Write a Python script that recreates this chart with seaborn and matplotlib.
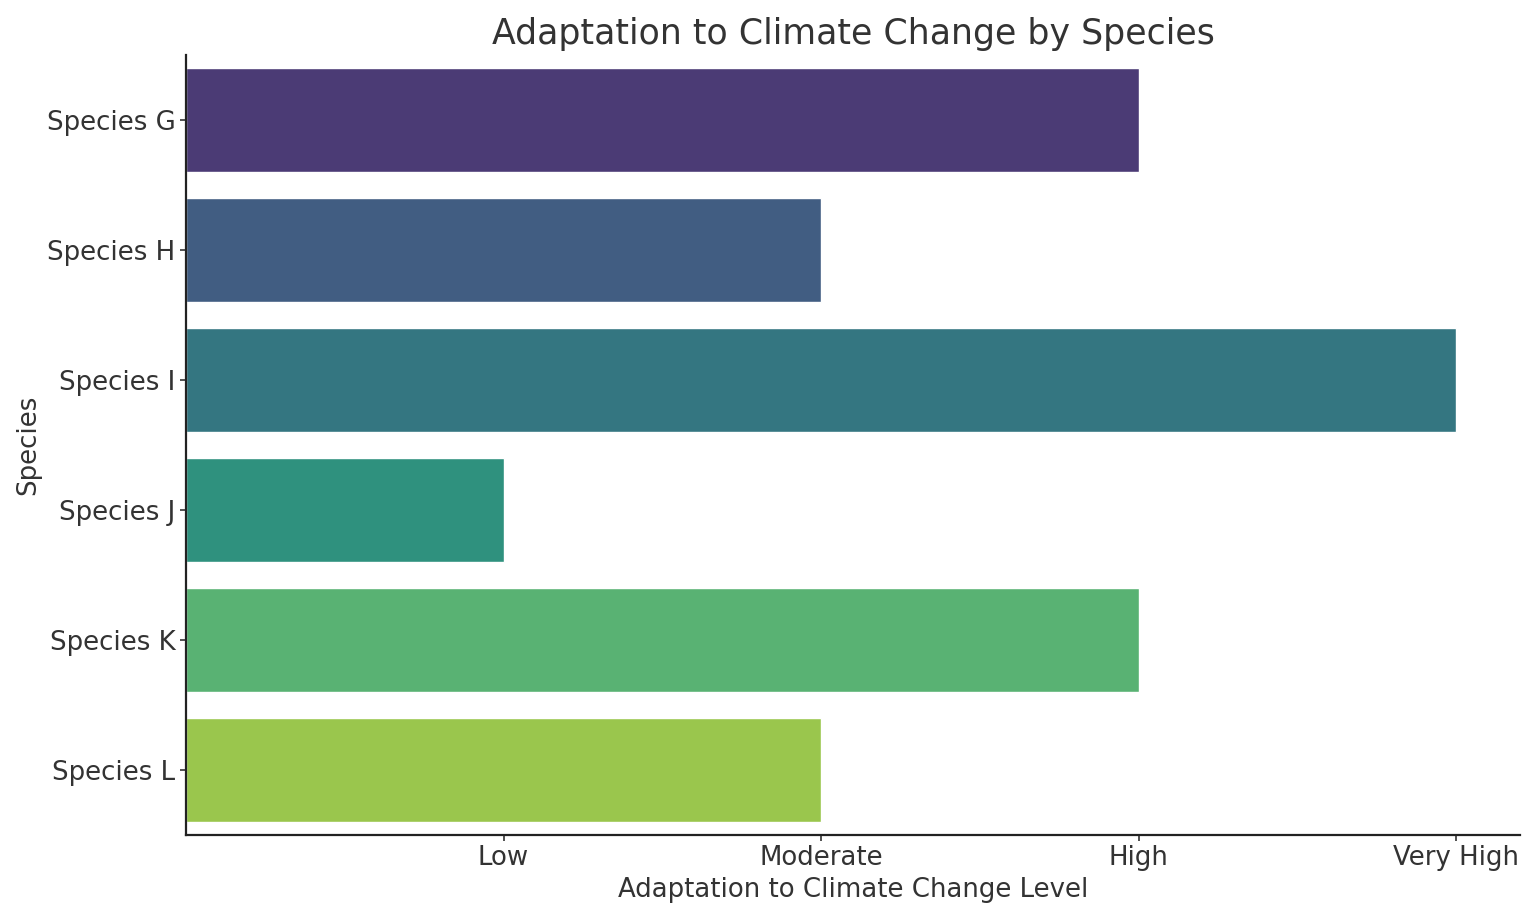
import matplotlib
matplotlib.use("Agg")
import matplotlib.pyplot as plt
import seaborn as sns
import pandas as pd

# data
species = ['Species G', 'Species H', 'Species I', 'Species J', 'Species K', 'Species L']
levels = [3, 2, 4, 1, 3, 2]
level_ticks = [1, 2, 3, 4]
level_labels = ['Low', 'Moderate', 'High', 'Very High']

df = pd.DataFrame({'Species': species, 'Level': levels})

sns.set_style('ticks')
plt.rcParams['font.family'] = ['DejaVu Sans']
text_color = '#333333'
plt.rcParams['text.color'] = text_color
plt.rcParams['axes.labelcolor'] = text_color
plt.rcParams['xtick.color'] = text_color
plt.rcParams['ytick.color'] = text_color

fig, ax = plt.subplots(figsize=(15.36, 9.18), dpi=100)
sns.barplot(x='Level', y='Species', hue='Species', data=df, palette='viridis',
            legend=False, orient='h', ax=ax)

ax.set_xticks(level_ticks)
ax.set_xticklabels(level_labels)
ax.set_xlim(0, 4.2)
ax.set_title('Adaptation to Climate Change by Species', fontsize=25, color=text_color, pad=8)
ax.set_xlabel('Adaptation to Climate Change Level', fontsize=18.7, labelpad=4)
ax.set_ylabel('Species', fontsize=18.7)
ax.tick_params(axis='both', labelsize=18.7, length=4.5, width=1.2, pad=3)
for side in ['left', 'bottom']:
    ax.spines[side].set_linewidth(1.6)
    ax.spines[side].set_color('#222222')
sns.despine(ax=ax)

fig.subplots_adjust(left=0.121, right=0.9896, top=0.940, bottom=0.0904)
fig.savefig('out.png', dpi=100)
